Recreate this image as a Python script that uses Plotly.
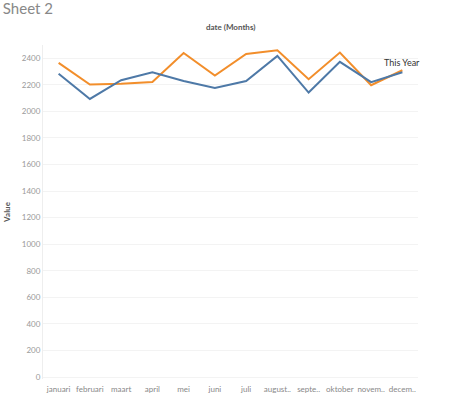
import plotly.graph_objects as go

months = ["januari", "februari", "maart", "april", "mei", "juni", "juli",
          "augustus", "september", "oktober", "november", "december"]
month_labels = ["januari", "februari", "maart", "april", "mei", "juni", "juli",
                "august..", "septe..", "oktober", "novem..", "decem.."]
this_year = [2365, 2202, 2209, 2222, 2440, 2270, 2433, 2460, 2242, 2443, 2197, 2310]
last_year = [2284, 2094, 2235, 2295, 2229, 2177, 2229, 2418, 2142, 2373, 2220, 2295]
y_ticks = [0, 200, 400, 600, 800, 1000, 1200, 1400, 1600, 1800, 2000, 2200, 2400]

fig = go.Figure()
fig.add_trace(go.Scatter(x=months, y=this_year, mode="lines", name="This Year",
                         line=dict(color="#f28e2b", width=2)))
fig.add_trace(go.Scatter(x=months, y=last_year, mode="lines", name="Last Year",
                         line=dict(color="#4e79a7", width=2)))

fig.add_annotation(x=months[-1], y=this_year[-1], text="This Year", showarrow=False,
                   xanchor="center", yanchor="middle", yshift=8, xshift=0,
                   font=dict(size=9, color="#333333", family="Lato"))

fig.update_layout(
    width=474, height=395,
    margin=dict(l=43, r=56, t=45, b=16, autoexpand=False),
    plot_bgcolor="white", paper_bgcolor="white",
    showlegend=False,
    font=dict(family="Lato", size=8, color="#888888"),
    title=dict(text="Sheet 2", x=0.006, xanchor="left", xref="container",
               y=0.99, yanchor="top", yref="container",
               font=dict(size=15, color="#888888", family="Lato")),
)
fig.update_xaxes(tickvals=months, ticktext=month_labels, showgrid=False,
                 showline=False, ticks="outside", ticklen=2, tickcolor="rgba(0,0,0,0)",
                 tickfont=dict(size=8, color="#888888"),
                 range=[-0.5, 11.5], automargin=False)
fig.update_yaxes(tickvals=y_ticks, range=[-15, 2500], showgrid=True,
                 gridcolor="#f3f3f3", zeroline=False, showline=True,
                 linecolor="#eeeeee", ticks="", tickfont=dict(size=8, color="#999999"),
                 automargin=False,
                 title=dict(text="<b>Value</b>", font=dict(size=8, color="#555555"), standoff=10))
fig.add_annotation(x=0.5, y=1.054, xref="paper", yref="paper", text="<b>date (Months)</b>",
                   yanchor="middle", showarrow=False,
                   font=dict(size=8, color="#555555", family="Lato"))

fig.write_html("out.html", config={"displayModeBar": False},
               post_script="document.body.style.margin='0px';")
